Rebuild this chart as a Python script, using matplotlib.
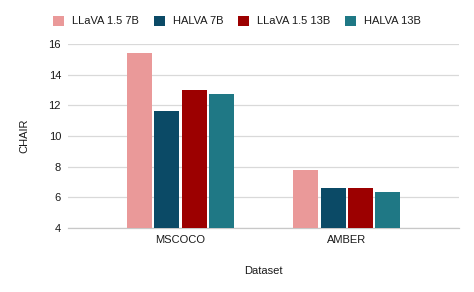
import numpy as np
import matplotlib
matplotlib.use("Agg")
import matplotlib.pyplot as plt

datasets = ["MSCOCO", "AMBER"]
modelos = ["LLaVA 1.5 7B", "HALVA 7B", "LLaVA 1.5 13B", "HALVA 13B"]
llava_7b = [15.4, 7.76]
halva_7b = [11.65, 6.6]
llava_13b = [13.0, 6.6]
halva_13b = [12.76, 6.35]
cores = ["#EA9999", "#0B4A66", "#9C0000", "#1F7885"]
y_ticks = [4, 6, 8, 10, 12, 14, 16]

plt.rcParams['font.family'] = ['Liberation Sans', 'DejaVu Sans']

fig = plt.figure(figsize=(4.74, 2.92), dpi=100)
ax = fig.add_axes([0.1435, 0.219, 0.8245, 0.630])

x = np.arange(len(datasets))
largura = 0.15
passo = 0.164
series = [llava_7b, halva_7b, llava_13b, halva_13b]
for i, valores in enumerate(series):
    ax.bar(x + (i - 1.5) * passo, np.array(valores) - 4, largura, bottom=4,
           color=cores[i], label=modelos[i], zorder=3)

ax.set_xlim(-0.676, 1.673)
ax.set_ylim(4, 16)
ax.set_yticks(y_ticks)
ax.set_xticks(x)
ax.set_xticklabels(datasets)
ax.tick_params(axis='both', length=0, labelsize=8, colors='#1a1a1a')
ax.tick_params(axis='y', pad=5)
ax.tick_params(axis='x', pad=5)
ax.grid(axis='y', color='#D9D9D9', linewidth=0.9, zorder=0)
for lado in ['top', 'right', 'left']:
    ax.spines[lado].set_visible(False)
ax.spines['bottom'].set_color('#C8C8C8')
ax.spines['bottom'].set_linewidth(0.9)

ax.set_xlabel('Dataset', fontsize=8, color='#1a1a1a', labelpad=15)
ax.set_ylabel('CHAIR', fontsize=8, color='#1a1a1a', labelpad=14)

fig.legend(loc='center', bbox_to_anchor=(0.5, 0.928), ncol=4, frameon=False,
           fontsize=8, handlelength=1.0, handleheight=1.0, handletextpad=0.7,
           columnspacing=1.35, labelcolor='#1a1a1a')

fig.savefig('out.png', dpi=100)
